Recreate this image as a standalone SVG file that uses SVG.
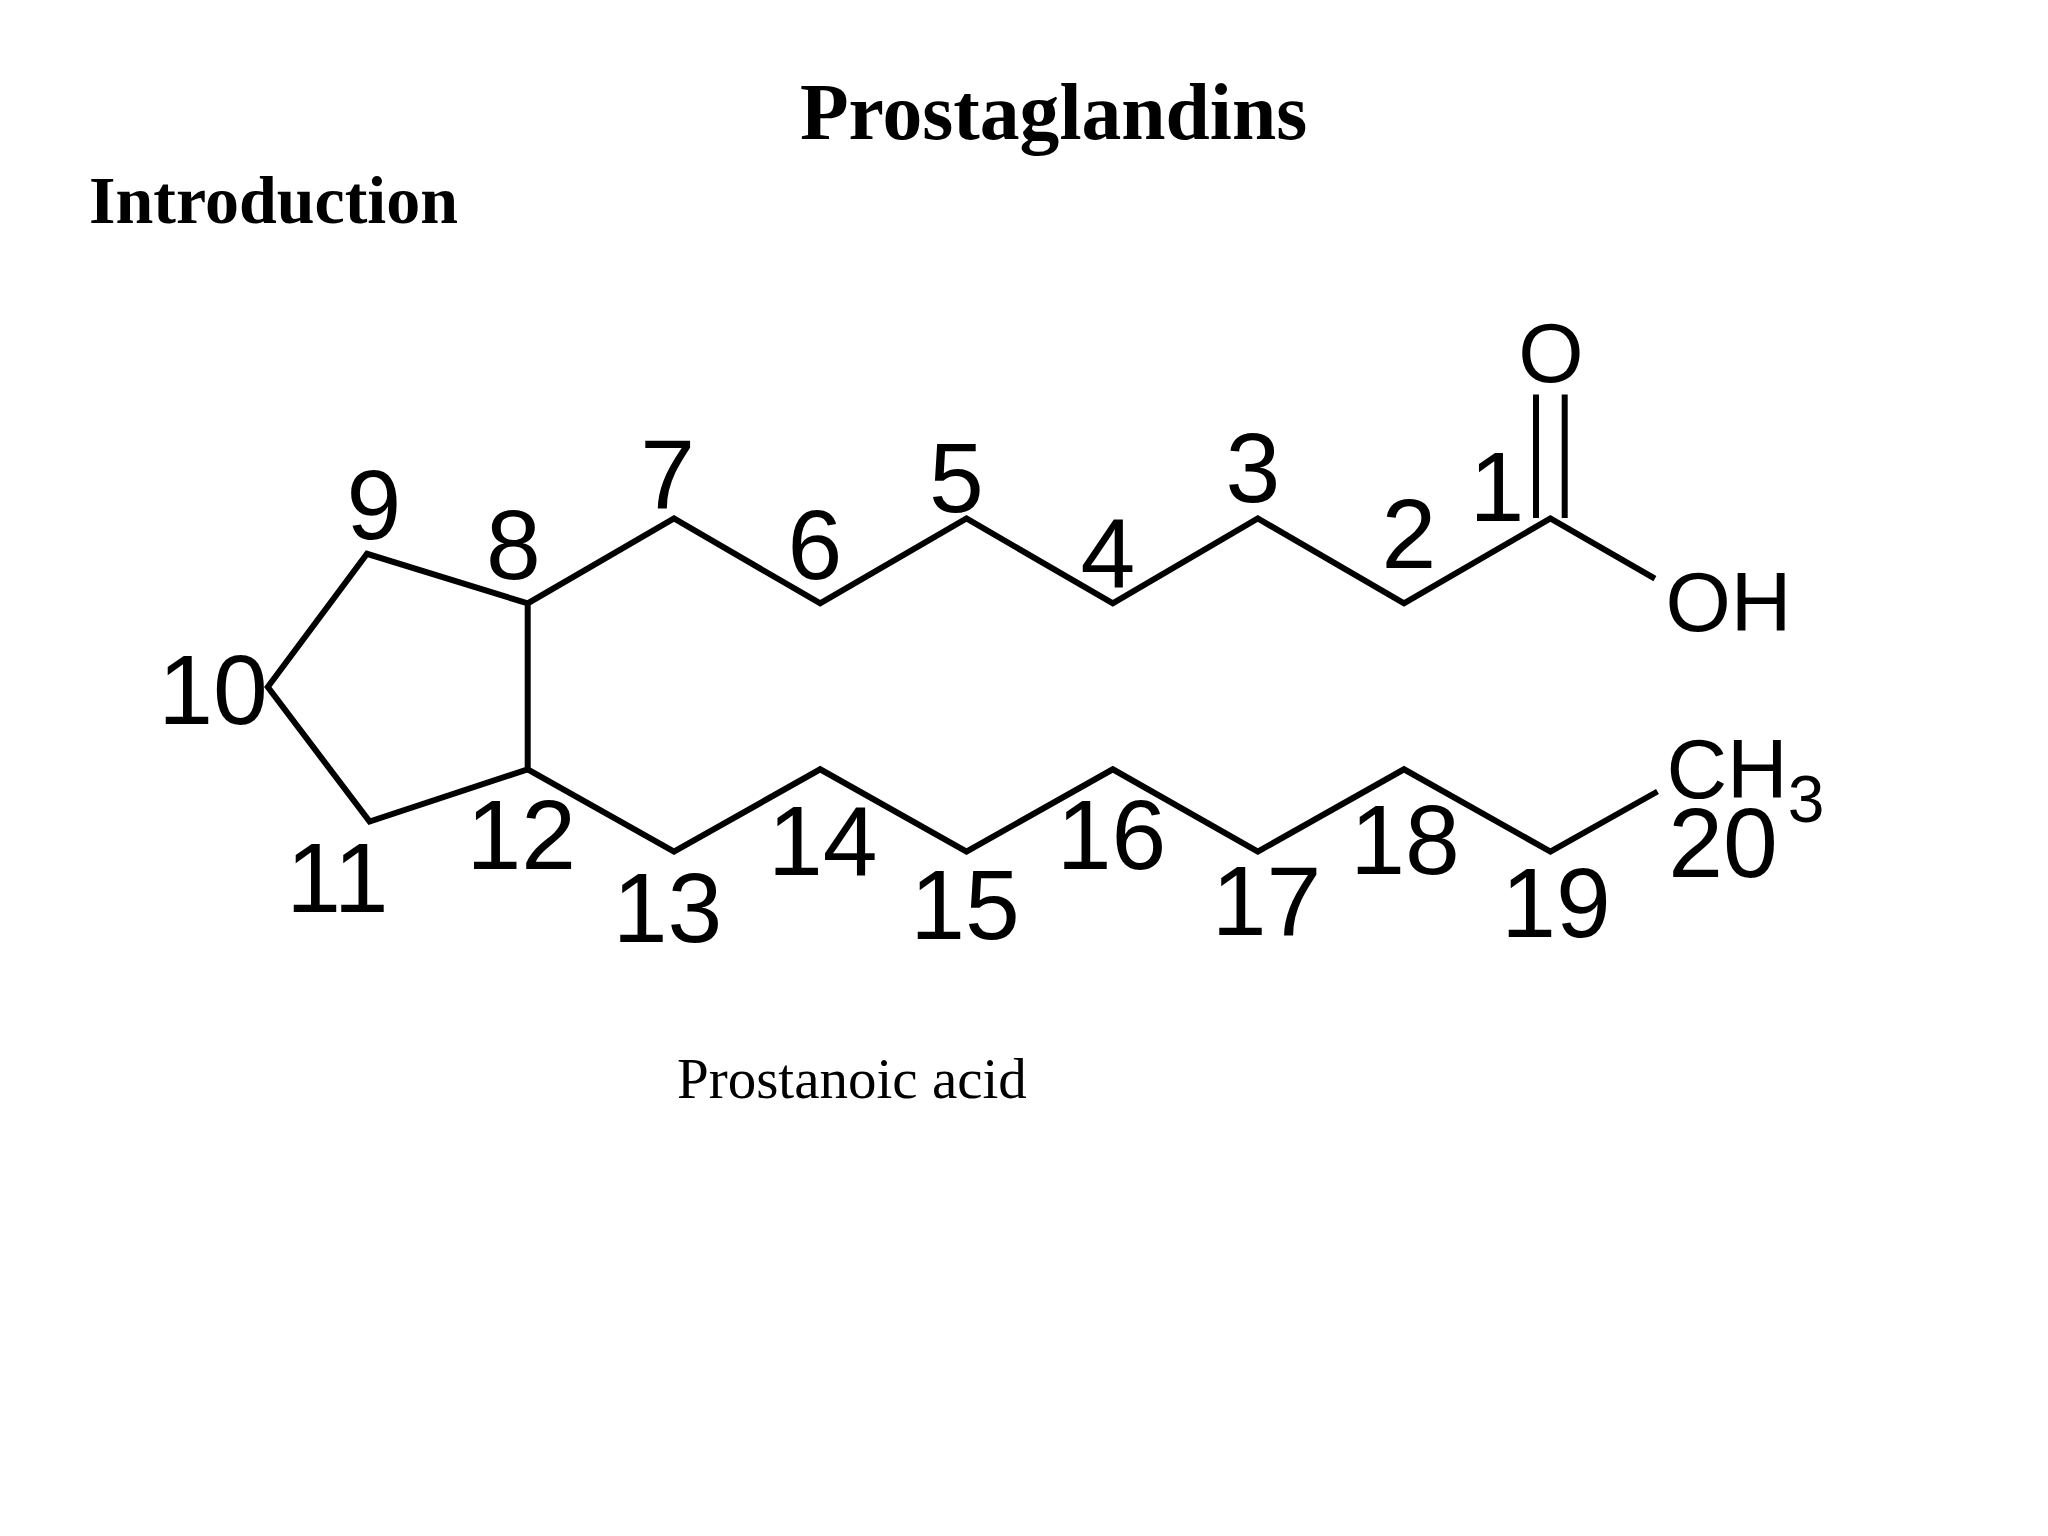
<svg xmlns="http://www.w3.org/2000/svg" width="2048" height="1536" viewBox="0 0 2048 1536">
<style>
.b{fill:none;stroke:#000;stroke-width:6;stroke-linejoin:miter;stroke-linecap:butt}
.n{font-family:"Liberation Sans",Arial,sans-serif;font-size:98.5px;fill:#000;text-anchor:middle}
.a{font-family:"Liberation Sans",Arial,sans-serif;font-size:84px;fill:#000}
.t{font-family:"Liberation Serif","Times New Roman",serif;fill:#000}
</style>
<rect width="2048" height="1536" fill="#fff"/>
<g id="connectors">
<path class="b" d="M527.7 603.4L367 553.8L267.8 687L369.6 821.6L527.7 769.3Z"/>
<path class="b" d="M527.7 603.4L674 518.5L820.2 603.4L966.5 518.5L1112.8 603.4L1257.8 518.5L1404 603.4L1550.4 518.5L1654.9 578.6"/>
<path class="b" d="M527.7 769.3L674 851.6L820.2 769.3L966.5 851.6L1112.8 769.3L1257.8 851.6L1404 769.3L1550.4 851.6L1657.5 791.5"/>
<path class="b" d="M1536 394.4V518M1564.7 394.4V518"/>
</g>
<g id="title"><text class="t" x="800" y="139" font-size="79.6" font-weight="bold">Prostaglandins</text></g>
<g id="intro"><text class="t" x="89" y="223" font-size="68" font-weight="bold">Introduction</text></g>
<g id="caption"><text class="t" x="677" y="1098" font-size="57">Prostanoic acid</text></g>
<g id="atoms">
<text class="a" x="1551" y="382" text-anchor="middle">O</text>
<text class="a" x="1665.5" y="631">OH</text>
<text class="a" x="1666.4" y="798">CH</text>
<text class="a" x="1806" y="822" text-anchor="middle" style="font-size:66px">3</text>
</g>
<g id="numbers">
<text class="n" x="374" y="538.5">9</text>
<text class="n" x="513.5" y="579">8</text>
<text class="n" x="667.6" y="507.5">7</text>
<text class="n" x="815" y="578.8">6</text>
<text class="n" x="956.5" y="511.5">5</text>
<text class="n" x="1108" y="587.2">4</text>
<text class="n" x="1253" y="501.5">3</text>
<text class="n" x="1409" y="568">2</text>
<text class="n" x="1497" y="521">1</text>
<text class="n" x="213" y="724">10</text>
<text class="n" x="337.3" y="912">11</text>
<text class="n" x="521.3" y="869">12</text>
<text class="n" x="667.6" y="941.8">13</text>
<text class="n" x="822.8" y="874.7">14</text>
<text class="n" x="965" y="938.5">15</text>
<text class="n" x="1111.5" y="868.7">16</text>
<text class="n" x="1266.5" y="934.5">17</text>
<text class="n" x="1405" y="874">18</text>
<text class="n" x="1556" y="937">19</text>
<text class="n" x="1723" y="877">20</text>
</g>
</svg>
